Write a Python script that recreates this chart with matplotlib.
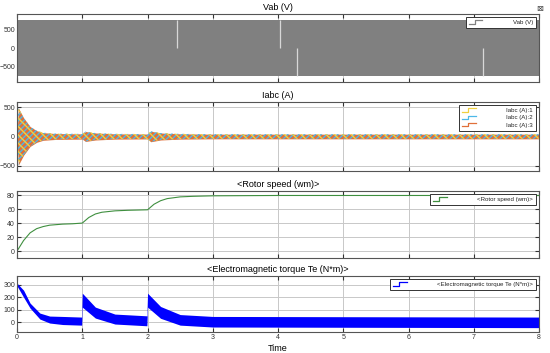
import numpy as np
import matplotlib.pyplot as plt
from matplotlib.lines import Line2D
from matplotlib.legend_handler import HandlerBase

plt.rcParams['font.family'] = ['Liberation Sans', 'DejaVu Sans']

# Vab (V): PWM band and the few gaps seen in it
vab_t = [0, 8]
vab_hi = [750, 750]
vab_lo = [-750, -750]
gap_t = [2.45, 4.03, 4.29, 7.14]
gap_y0 = [0, 0, -750, -750]
gap_y1 = [750, 750, 0, 0]

# Iabc (A): amplitude envelope of the three phases
i_t = [0, 0.02, 0.1, 0.2, 0.3, 0.4, 0.6, 0.99, 1.0, 1.05, 1.2, 1.5, 1.99, 2.0, 2.05, 2.2, 2.5, 3, 8]
i_amp = [0, 490, 320, 170, 100, 65, 50, 45, 45, 85, 60, 45, 42, 45, 90, 60, 45, 40, 40]

# <Rotor speed (wm)>
w_t = [0, 0.1, 0.2, 0.3, 0.4, 0.5, 0.7, 0.85, 1.0, 1.1, 1.2, 1.3, 1.5, 1.7, 2.0, 2.1, 2.2, 2.3, 2.5, 2.7, 3.0, 4, 8]
w = [0, 15, 26, 32, 35, 37, 38.5, 39, 40, 48, 53, 55.5, 57.5, 58.3, 59, 67, 72, 75, 77.5, 78.3, 79, 79.5, 79.5]

# <Electromagnetic torque Te (N*m)>: upper / lower envelope
te_t = [0, 0.1, 0.2, 0.35, 0.5, 0.7, 0.99, 1.0, 1.2, 1.5, 1.99, 2.0, 2.2, 2.5, 3.0, 8]
te_hi = [312, 256, 152, 72, 48, 45, 40, 232, 120, 64, 50, 232, 125, 60, 45, 40]
te_lo = [290, 200, 112, 24, -8, -20, -25, 120, 32, -16, -30, 120, 30, -25, -40, -45]


class StepHandler(HandlerBase):
    def create_artists(self, legend, orig, xd, yd, w, h, fs, trans):
        xs = [xd, xd + 0.45 * w, xd + 0.45 * w, xd + w]
        ys = [yd + 0.1 * h, yd + 0.1 * h, yd + 0.9 * h, yd + 0.9 * h]
        ln = Line2D(xs, ys, color=orig.get_color(), lw=0.9, transform=trans)
        return [ln]


fig = plt.figure(figsize=(5.5, 3.53), dpi=100)
boxes = [[0.031, 0.7677, 0.949, 0.1926],
         [0.031, 0.5156, 0.949, 0.1955],
         [0.031, 0.2691, 0.949, 0.19],
         [0.031, 0.0595, 0.949, 0.1586]]
axs = [fig.add_axes(b) for b in boxes]

for ax in axs:
    ax.set_xlim(0, 8)
    ax.set_xticks(range(9))
    ax.grid(True, color='#c8c8c8', lw=0.7)
    ax.set_axisbelow(True)
    ax.tick_params(direction='in', length=3, labelsize=5, colors='#333333',
                   top=True, right=True, pad=1.5)
    for s in ax.spines.values():
        s.set_color('#555555')
        s.set_linewidth(0.8)
for ax in axs[:3]:
    ax.tick_params(labelbottom=False)

def legend(ax, handles, labels):
    lg = ax.legend(handles, labels, loc='upper right', fontsize=4.4,
                   handler_map={Line2D: StepHandler()}, handlelength=2.2,
                   handletextpad=5, borderpad=0.5, labelspacing=0.35,
                   fancybox=False, framealpha=1, edgecolor='#333333',
                   borderaxespad=0.45)
    lg.get_frame().set_linewidth(0.7)
    for t in lg.get_texts():
        t.set_color('#222222')

# Vab
ax = axs[0]
ax.fill_between(vab_t, vab_lo, vab_hi, color='#808080', lw=0)
ax.vlines(gap_t, gap_y0, gap_y1, color='#d8d8d8', lw=0.9)
ax.set_ylim(-920, 920)
ax.set_yticks([-500, 0, 500])
ax.set_title('Vab (V)', fontsize=6.5, pad=3)
legend(ax, [Line2D([], [], color='#808080')], ['Vab (V)'])

# Iabc
ax = axs[1]
amp = np.array(i_amp)
ax.fill_between(i_t, -amp, amp, color='#e0703a', lw=0)
ax.fill_between(i_t, -amp, amp, facecolor='none', edgecolor='#4db8e8', hatch='//////', lw=0)
ax.fill_between(i_t, -amp, amp, facecolor='none', edgecolor='#f0d040', hatch='\\\\\\\\', lw=0)
ax.set_ylim(-590, 590)
ax.set_yticks([-500, 0, 500])
ax.set_title('Iabc (A)', fontsize=6.5, pad=3)
legend(ax, [Line2D([], [], color=c) for c in ['#f0d040', '#4db8e8', '#e0703a']],
       ['Iabc (A):1', 'Iabc (A):2', 'Iabc (A):3'])

# Rotor speed
ax = axs[2]
ax.plot(w_t, w, color='#3f8f3f', lw=0.8)
ax.set_ylim(-10, 86)
ax.set_yticks([0, 20, 40, 60, 80])
ax.set_title('<Rotor speed (wm)>', fontsize=6.5, pad=3)
legend(ax, [Line2D([], [], color='#3f8f3f')], ['<Rotor speed (wm)>'])

# Torque
ax = axs[3]
ax.fill_between(te_t, te_lo, te_hi, color='#0000ff', lw=0)
ax.set_ylim(-80, 370)
ax.set_yticks([0, 100, 200, 300])
ax.set_title('<Electromagnetic torque Te (N*m)>', fontsize=6.5, pad=3)
ax.set_xlabel('Time', fontsize=6.5, labelpad=2)
legend(ax, [Line2D([], [], color='#0000ff')], ['<Electromagnetic torque Te (N*m)>'])

fig.text(0.988, 0.982, '\u22a0', fontsize=6, ha='right', va='top', color='#444444')

fig.savefig('out.png', dpi=100)
